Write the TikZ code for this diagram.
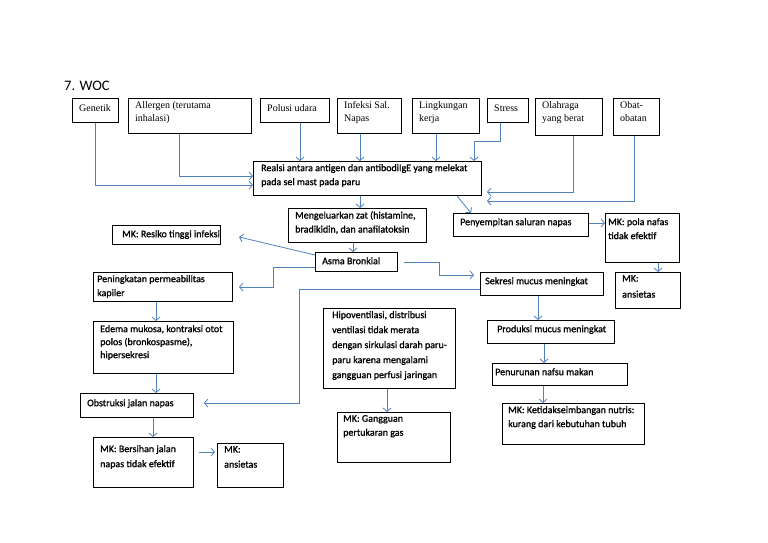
\documentclass[tikz,border=0pt]{standalone}
\usepackage{fontspec}
\setmainfont{Carlito}[RawFeature={embolden=1.2}]
\newfontfamily\plaincal{Carlito}
\newfontfamily\serifx{Liberation Serif}
\usetikzlibrary{arrows.meta}
\definecolor{arrowblue}{RGB}{79,129,189}
\begin{document}
\begin{tikzpicture}[x=1pt,y=-1pt,
  box/.style={draw=black, line width=0.9pt, inner sep=0pt, anchor=north west},
  lab/.style={anchor=north west, inner xsep=7pt, inner ysep=3pt, align=left,
    font=\fontsize{10}{14}\selectfont, execute at begin node={\rule{0pt}{9pt}}},
  tlab/.style={anchor=north west, inner xsep=7pt, inner ysep=3pt, align=left,
    font=\serifx\fontsize{10}{13}\selectfont, execute at begin node={\rule{0pt}{10pt}}},
  arr/.style={draw=arrowblue, line width=0.8pt, -{Straight Barb[length=3.5pt,width=8pt]}},
]
\fill[white] (0,0) rectangle (768,543);
\useasboundingbox (0,0) rectangle (768,543);

\node[anchor=base west, inner sep=0pt, font=\plaincal\fontsize{14.5}{17}\selectfont] (title) at (64,90) {7. WOC};

% top row
\node[box, minimum width=46pt, minimum height=24pt, label={[tlab]north west:{Genetik}}] (gen) at (72,98) {};
\node[box, minimum width=123pt, minimum height=35pt, label={[tlab]north west:{Allergen (terutama\\inhalasi)}}] (all) at (128,98) {};
\node[box, minimum width=69pt, minimum height=24pt, label={[tlab]north west:{Polusi udara}}] (pol) at (260,98) {};
\node[box, minimum width=64pt, minimum height=35pt, label={[tlab]north west:{Infeksi Sal.\\Napas}}] (inf) at (337,98) {};
\node[box, minimum width=67pt, minimum height=35pt, label={[tlab]north west:{Lingkungan\\kerja}}] (lin) at (412,98) {};
\node[box, minimum width=41pt, minimum height=24pt, label={[tlab]north west:{Stress}}] (str) at (487,98) {};
\node[box, minimum width=67pt, minimum height=37pt, label={[tlab]north west:{Olahraga\\yang berat}}] (ola) at (535,98) {};
\node[box, minimum width=46pt, minimum height=37pt, label={[tlab]north west:{Obat-\\obatan}}] (oba) at (613,98) {};

% middle
\node[box, minimum width=228pt, minimum height=34pt, label={[lab, inner xsep=8pt]north west:{Realsi antara antigen dan antibodiIgE yang melekat\\pada sel mast pada paru}}] (rea) at (253,161) {};
\node[box, minimum width=138pt, minimum height=34pt, label={[lab]north west:{Mengeluarkan zat (histamine,\\bradikidin, dan anafilatoksin}}] (men) at (288,208) {};
\node[box, minimum width=82pt, minimum height=19pt, label={[lab]north west:{Asma Bronkial}}] (asm) at (315,252) {};
\node[box, minimum width=135pt, minimum height=23pt, label={[lab]north west:{Penyempitan saluran napas}}] (pen) at (453,213) {};
\node[box, minimum width=74pt, minimum height=49pt, label={[lab, inner xsep=3pt, yshift=-2pt]north west:{MK: pola nafas\\tidak efektif}}] (mkp) at (605,213) {};
\node[box, minimum width=65pt, minimum height=36pt, label={[lab, font=\fontsize{10}{16}\selectfont]north west:{MK:\\ansietas}}] (ansr) at (615,272) {};
\node[box, minimum width=123pt, minimum height=23pt, label={[lab, inner xsep=5pt]north west:{Sekresi mucus meningkat}}] (sek) at (480,272) {};

% left column
\node[box, minimum width=108pt, minimum height=19pt, label={[lab, inner xsep=10pt]north west:{MK: Resiko tinggi infeksi}}] (res) at (112,225) {};
\node[box, minimum width=139pt, minimum height=29pt, label={[lab, inner xsep=4pt]north west:{Peningkatan permeabilitas\\kapiler}}] (pni) at (93,272) {};
\node[box, minimum width=140pt, minimum height=52pt, label={[lab, font=\fontsize{10}{13}\selectfont, yshift=-1pt]north west:{Edema mukosa, kontraksi otot\\polos (bronkospasme),\\hipersekresi}}] (ede) at (93,321) {};
\node[box, minimum width=113pt, minimum height=24pt, label={[lab, yshift=-1pt]north west:{Obstruksi jalan napas}}] (obs) at (80,393) {};
\node[box, minimum width=100pt, minimum height=50pt, label={[lab, font=\fontsize{10}{15}\selectfont, yshift=-5pt]north west:{MK: Bersihan jalan\\napas tidak efektif}}] (ber) at (93,437) {};
\node[box, minimum width=66pt, minimum height=44pt, label={[lab, font=\fontsize{10}{15}\selectfont]north west:{MK:\\ansietas}}] (ansl) at (217,443) {};

% center
\node[box, minimum width=132pt, minimum height=80pt, label={[lab, inner xsep=9pt, font=\fontsize{10}{15}\selectfont]north west:{Hipoventilasi, distribusi\\ventilasi tidak merata\\dengan sirkulasi darah paru-\\paru karena mengalami\\gangguan perfusi jaringan}}] (hip) at (323,308) {};
\node[box, minimum width=113pt, minimum height=50pt, label={[lab, inner xsep=6pt]north west:{MK: Gangguan\\pertukaran gas}}] (gan) at (337,412) {};

% right column
\node[box, minimum width=127pt, minimum height=23pt, label={[lab, inner xsep=10pt]north west:{Produksi mucus meningkat}}] (pro) at (487,320) {};
\node[box, minimum width=135pt, minimum height=22pt, label={[lab, inner xsep=3pt]north west:{Penurunan nafsu makan}}] (pnr) at (492,363) {};
\node[box, minimum width=142pt, minimum height=41pt, label={[lab, inner xsep=6pt]north west:{MK: Ketidakseimbangan nutris:\\kurang dari kebutuhan tubuh}}] (ket) at (502,403) {};

% free ends
\coordinate (olaend) at (487,192);
\coordinate (obaend) at (487,201);
\coordinate (resend) at (239,237);
\coordinate (pniend) at (239,287);

% connectors
\draw[arr] (gen.south) |- (rea.west |- 0,185);
\draw[arr] (all.south -| 179,0) |- (rea.west |- 0,176);
\draw[arr] (pol.south -| 300,0) -- (rea.north -| 300,0);
\draw[arr] (inf.south -| 360,0) -- (rea.north -| 360,0);
\draw[arr] (lin.south -| 436,0) -- (rea.north -| 436,0);
\draw[arr] (str.south -| 500,0) |- (474,141) -- (rea.north -| 474,0);
\draw[arr] (ola.south -| 573,0) |- (olaend);
\draw[arr] (oba.south -| 634,0) |- (obaend);
\draw[arr] (rea.south -| 360,0) -- (men.north -| 360,0);
\draw[arr] (rea.south -| 457,0) -- (pen.north -| 471,0);
\draw[arr] (men.south -| 353,0) -- (asm.north -| 353,0);
\draw[arr] (asm.west |- 0,255) -- (resend);
\draw[arr] (asm.west |- 0,267) -| (273,287) -- (pniend);
\draw[arr, shorten <=6pt, shorten >=6pt] (asm.east |- 0,262) -| (439,275) -- (sek.west |- 0,275);
\draw[arr, shorten >=10pt] (sek.west |- 0,289) -| (299,403) -- (obs.east |- 0,403);
\draw[arr] (pen.east |- 0,223) -- (mkp.west |- 0,223);
\draw[arr] (mkp.south -| 658,0) -- (ansr.north -| 658,0);
\draw[arr] (pni.south -| 156,0) -- (ede.north -| 156,0);
\draw[arr] (ede.south -| 156,0) -- (obs.north -| 156,0);
\draw[arr] (obs.south -| 153,0) -- (ber.north -| 153,0);
\draw[arr, shorten <=5pt, shorten >=2pt] (ber.east |- 0,452) -- (ansl.west |- 0,452);
\draw[arr] (hip.south -| 387,0) -- (gan.north -| 387,0);
\draw[arr] (sek.south -| 538,0) -- (pro.north -| 538,0);
\draw[arr] (pro.south -| 544,0) -- (pnr.north -| 544,0);
\draw[arr] (pnr.south -| 543,0) -- (ket.north -| 543,0);
\end{tikzpicture}
\end{document}
